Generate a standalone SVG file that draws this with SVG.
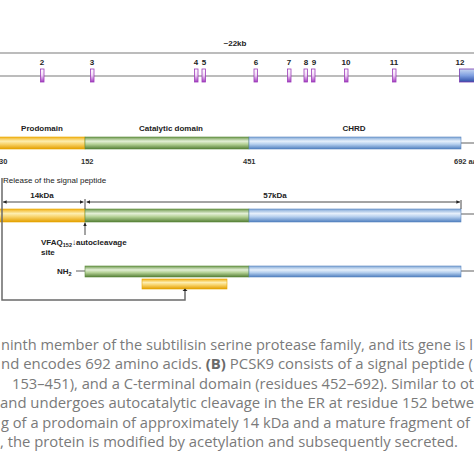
<svg xmlns="http://www.w3.org/2000/svg" width="474" height="474" viewBox="0 0 474 474">
<defs>
<linearGradient id="gExon" x1="0" y1="0" x2="0" y2="1"><stop offset="0" stop-color="#ffffff"/><stop offset="0.45" stop-color="#f3dcf7"/><stop offset="1" stop-color="#a43cc0"/></linearGradient>
<linearGradient id="gE12" x1="0" y1="0" x2="0" y2="1"><stop offset="0" stop-color="#c9d8f2"/><stop offset="0.5" stop-color="#7f9fe0"/><stop offset="1" stop-color="#2f4fa8"/></linearGradient>
<linearGradient id="gOr" x1="0" y1="0" x2="0" y2="1"><stop offset="0" stop-color="#f2b21a"/><stop offset="0.35" stop-color="#fdeeb0"/><stop offset="0.6" stop-color="#f8d36a"/><stop offset="1" stop-color="#e39f00"/></linearGradient>
<linearGradient id="gGr" x1="0" y1="0" x2="0" y2="1"><stop offset="0" stop-color="#6f9a4e"/><stop offset="0.35" stop-color="#e3efd6"/><stop offset="0.6" stop-color="#b4d195"/><stop offset="1" stop-color="#557f36"/></linearGradient>
<linearGradient id="gBl" x1="0" y1="0" x2="0" y2="1"><stop offset="0" stop-color="#7fa6d6"/><stop offset="0.35" stop-color="#e6f0fb"/><stop offset="0.6" stop-color="#b5cfee"/><stop offset="1" stop-color="#4f7fbf"/></linearGradient>
<marker id="ah" viewBox="0 0 6 6" refX="6" refY="3" markerWidth="4" markerHeight="4" orient="auto-start-reverse"><path d="M0,0 L6,3 L0,6 z" fill="#222"/></marker>
</defs>
<style>
.ln{stroke:#7a7a7a;stroke-width:1.2;fill:none}
.dk{stroke:#333;stroke-width:0.9;fill:none}
.br{stroke:#6a6a6a;stroke-width:1.5;fill:none}
.ex{fill:url(#gExon);stroke:#9c3db8;stroke-width:0.8}
.lb{font-family:"Liberation Sans",Arial,sans-serif;font-size:8px;font-weight:bold;fill:#222}
.nm{font-family:"Liberation Sans",Arial,sans-serif;font-size:7.5px;font-weight:bold;fill:#333}
.sm{font-family:"Liberation Sans",Arial,sans-serif;font-size:8px;fill:#222}
.or{fill:url(#gOr);stroke:#e6a800;stroke-width:0.6}
.gr{fill:url(#gGr);stroke:#5c8a3c;stroke-width:0.6}
.bl{fill:url(#gBl);stroke:#5a86c0;stroke-width:0.6}
.cap{font-family:"Open Sans","Noto Sans",sans-serif;font-size:15px;fill:#7a7a7a}
</style>

<g id="gene-map">
<text class="lb" x="235" y="46" text-anchor="middle">~22kb</text>
<line class="ln" x1="0" y1="53" x2="474" y2="53"/>
<line class="ln" x1="0" y1="76" x2="474" y2="76"/>
<g id="exons">
<rect class="ex" x="40.5" y="69" width="3.5" height="13"/>
<rect class="ex" x="90.5" y="69" width="3.5" height="13"/>
<rect class="ex" x="194.5" y="69" width="3.5" height="13"/>
<rect class="ex" x="202" y="69" width="3.5" height="13"/>
<rect class="ex" x="254" y="69" width="3.5" height="13"/>
<rect class="ex" x="287.5" y="69" width="3.5" height="13"/>
<rect class="ex" x="304" y="69" width="3.5" height="13"/>
<rect class="ex" x="311.5" y="69" width="3.5" height="13"/>
<rect class="ex" x="344.5" y="69" width="3.5" height="13"/>
<rect class="ex" x="392.5" y="69" width="3.5" height="13"/>
<rect x="459.5" y="69" width="16" height="13" fill="url(#gE12)" stroke="#7a3db0" stroke-width="0.8"/>
</g>
<g class="lb" text-anchor="middle">
<text x="42" y="65">2</text><text x="92" y="65">3</text><text x="196" y="65">4</text><text x="204" y="65">5</text>
<text x="256" y="65">6</text><text x="289" y="65">7</text><text x="306" y="65">8</text><text x="314" y="65">9</text>
<text x="346" y="65">10</text><text x="394" y="65">11</text><text x="460" y="65">12</text>
</g>
</g>

<g id="proprotein">
<text class="lb" x="42" y="131" text-anchor="middle">Prodomain</text>
<text class="lb" x="171" y="131" text-anchor="middle">Catalytic domain</text>
<text class="lb" x="354" y="131" text-anchor="middle">CHRD</text>
<line class="ln" x1="461" y1="143" x2="474" y2="143"/>
<rect class="or" x="-1" y="137" width="86" height="12"/>
<rect class="gr" x="85" y="137" width="164" height="12"/>
<rect class="bl" x="249" y="137" width="212" height="12"/>
<text class="nm" x="-1" y="164">30</text>
<text class="nm" x="81" y="164">152</text>
<text class="nm" x="243" y="164">451</text>
<text class="nm" x="454" y="164">692  aa</text>
</g>

<g id="processed">
<line class="ln" x1="461" y1="214" x2="474" y2="214"/>
<rect class="or" x="-1" y="209" width="86" height="13"/>
<rect class="gr" x="85" y="209" width="164" height="13"/>
<rect class="bl" x="249" y="209" width="212" height="13"/>
<text class="lb" x="41" y="245">VFAQ<tspan font-size="5.5px" baseline-shift="-2">152</tspan>↓autocleavage</text>
<text class="lb" x="41" y="255">site</text>
</g>

<g id="mature">
<text class="lb" x="57" y="274">NH<tspan font-size="5.5px" baseline-shift="-2">2</tspan></text>
<line class="ln" x1="76" y1="271" x2="85" y2="271"/>
<line class="ln" x1="461" y1="271" x2="474" y2="271"/>
<rect class="gr" x="85" y="266" width="164" height="11"/>
<rect class="bl" x="249" y="266" width="212" height="11"/>
<rect class="or" x="142" y="279" width="85" height="10"/>
</g>

<g id="connectors">
<text class="sm" x="3" y="183">Release of the signal peptide</text>
<text class="lb" x="42" y="198" text-anchor="middle">14kDa</text>
<text class="lb" x="275" y="198" text-anchor="middle">57kDa</text>
<line class="dk" x1="3" y1="202" x2="83.5" y2="202" marker-start="url(#ah)" marker-end="url(#ah)"/>
<line class="dk" x1="86.5" y1="202" x2="460" y2="202" marker-start="url(#ah)" marker-end="url(#ah)"/>
<line class="dk" x1="85" y1="199" x2="85" y2="209"/>
<line class="dk" x1="461" y1="200" x2="461" y2="209"/>
<line class="dk" x1="85" y1="235" x2="85" y2="222.5" marker-end="url(#ah)"/>
<path class="br" d="M2,178 V300 H185 V290"/>
<path d="M182.5,291 L185,288.5 L187.5,291 z" fill="#222"/>
</g>

<g id="caption" class="cap">
<text x="1" y="350" textLength="472" lengthAdjust="spacingAndGlyphs">ninth member of the subtilisin serine protease family, and its gene is l</text>
<text x="1" y="369" textLength="472" lengthAdjust="spacingAndGlyphs">nd encodes 692 amino acids. <tspan font-weight="bold" fill="#6a6a6a">(B)</tspan> PCSK9 consists of a signal peptide (</text>
<text x="12" y="389" textLength="462" lengthAdjust="spacingAndGlyphs">153–451), and a C-terminal domain (residues 452–692). Similar to ot</text>
<text x="0" y="408" textLength="474" lengthAdjust="spacingAndGlyphs">and undergoes autocatalytic cleavage in the ER at residue 152 betwe</text>
<text x="1" y="428" textLength="469" lengthAdjust="spacingAndGlyphs">g of a prodomain of approximately 14 kDa and a mature fragment of</text>
<text x="0" y="447" textLength="458" lengthAdjust="spacingAndGlyphs">, the protein is modified by acetylation and subsequently secreted.</text>
</g>
</svg>
